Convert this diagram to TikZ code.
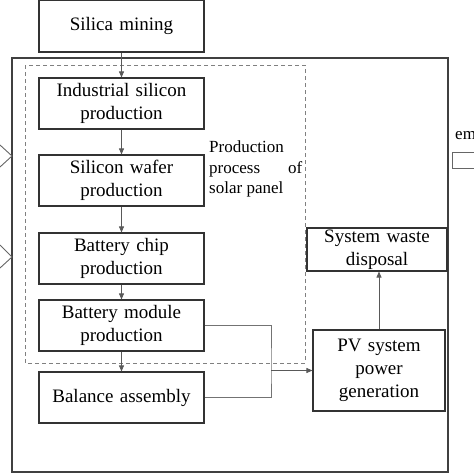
\documentclass[tikz,border=0pt]{standalone}
\usepackage{fontspec}
\setmainfont{Liberation Serif}
\usetikzlibrary{positioning,calc,arrows.meta}

\begin{document}
\begin{tikzpicture}[x=1pt, y=-1pt,
    stage/.style={draw=black!80, line width=1.1pt, rectangle, minimum width=165pt, minimum height=51pt,
        text width=160pt, align=center, inner sep=0pt, font=\fontsize{19}{23}\selectfont},
    flow/.style={draw=black!65, line width=0.8pt, -{Triangle[length=6pt, width=5pt]}},
    link/.style={draw=black!55, line width=0.8pt}]
    \useasboundingbox (0, 0) rectangle (474, 474);

    % Outer frame and solar panel group
    \draw [black!75, line width=1.1pt] (12, 58) rectangle (448, 472);
    \draw [black!50, line width=0.9pt, dash pattern=on 4pt off 3pt] (25, 65) rectangle (305, 363);
    \node [text width=93pt, align=justify, inner sep=0pt, anchor=north west,
        font=\fontsize{17}{20.5}\selectfont] (group) at (209, 141) {Production process of solar panel};

    % Production chain
    \node [stage, minimum height=52pt] (mining) at (121.5, 26) {Silica mining};
    \node [stage] (silicon) at (121.5, 103.5) {Industrial silicon\\production};
    \node [stage] (wafer) at (121.5, 180.5) {Silicon wafer\\production};
    \node [stage] (chip) at (121.5, 258.5) {Battery chip\\production};
    \node [stage] (module) at (121.5, 325.5) {Battery module\\production};
    \node [stage] (balance) at (121.5, 397.5) {Balance assembly};

    \draw [flow] (mining) -- (silicon);
    \draw [flow] (silicon) -- (wafer);
    \draw [flow] (wafer) -- (chip);
    \draw [flow] (chip) -- (module);
    \draw [flow] (module) -- (balance);

    % Use and disposal
    \node [stage, minimum width=132pt, minimum height=81pt, text width=128pt] (pv) at (379, 370.5) {PV system\\power\\generation};
    \node [stage, minimum width=140pt, minimum height=43pt, text width=136pt] (waste) at (377, 249.5) {System waste\\disposal};

    \coordinate (join) at (271, 370.5);
    \draw [link] (module.east) -| (join) |- (balance.east);
    \draw [flow] (join) -- (pv.west);
    \draw [flow] (pv.north) -- (pv.north |- waste.south);

    % Cut-off parts at the edges
    \draw [black!60, line width=0.9pt] (0, 145) -- (12, 156) -- (0, 167);
    \draw [black!60, line width=0.9pt] (0, 245) -- (12, 257) -- (0, 268);
    \draw [black!60, line width=0.9pt] (482, 152) -- (452, 152) -- (452, 168) -- (482, 168);
    \node [anchor=west, inner sep=0pt, font=\fontsize{17}{20}\selectfont] (emtext) at (455, 136) {em};
\end{tikzpicture}
\end{document}
